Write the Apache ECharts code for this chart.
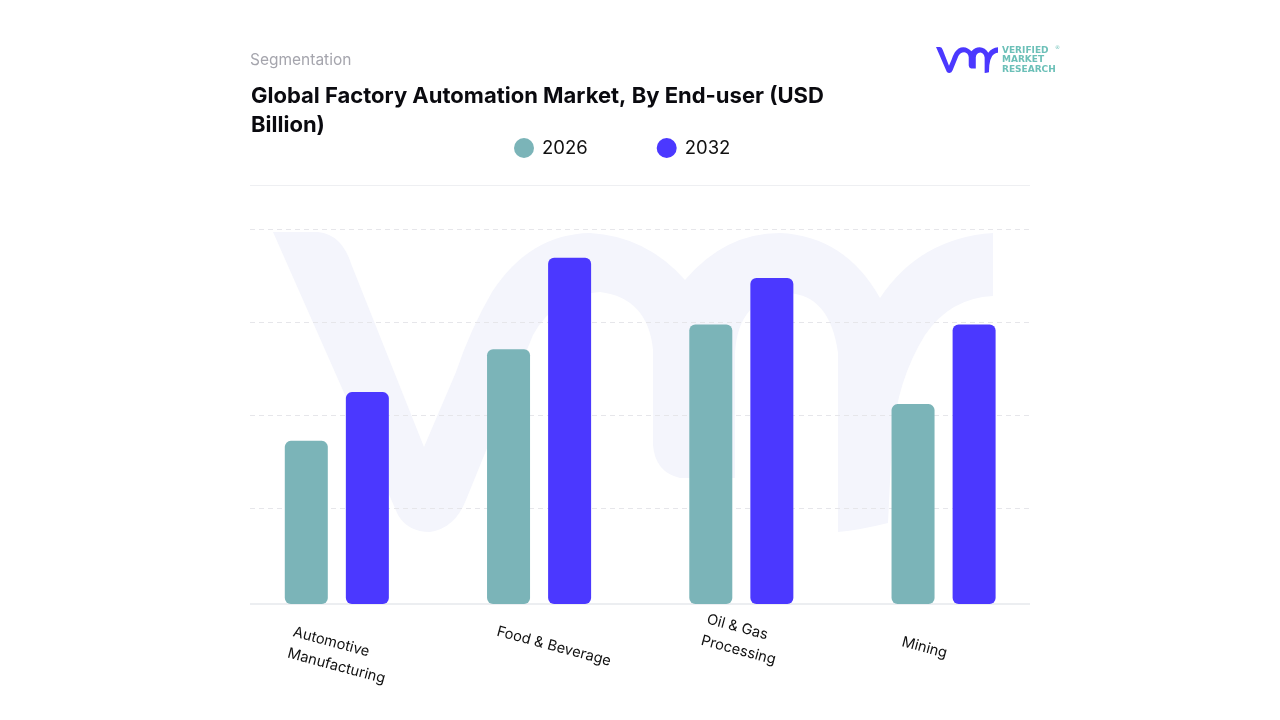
<!DOCTYPE html>
<html>
<head>
<meta charset="utf-8">
<title>Global Factory Automation Market</title>
<script src="https://cdn.jsdelivr.net/npm/echarts@6/dist/echarts.min.js"></script>
<style>
html,body{margin:0;padding:0;background:#fff;}
#panel{width:1280px;height:720px;}
</style>
</head>
<body>
<div id="panel"></div>
<script>
var categories = ['Automotive\nManufacturing', 'Food & Beverage', 'Oil & Gas\nProcessing', 'Mining'];
var seriesNames = ['2026', '2032'];
var values2026 = [43.5, 67.9, 74.5, 53.3];
var values2032 = [56.5, 92.3, 86.9, 74.5];
// padding per label, the labels sit unevenly under the groups
var labelPadding = [[21, 0, 0, 10], [0, 0, 3, 30], [0, 2, 8.4, 0], [17, 35, 0, 0]];

var fontName = 'Inter';
var tealColor = '#7BB4B8';
var blueColor = '#4B38FF';

// vmr logo outline, used for the watermark and the small logo
var logoPath = 'M273 232 L318 232 Q342 234 352 266 L424 447 L456 372 Q470 330 492 292 Q530 234 590 233 ' +
    'Q646 236 685 280 Q725 233 780 233 Q845 236 880 298 Q920 238 993 233 L993 296 Q950 298 925 335 ' +
    'Q897 380 892 440 L888 523 Q860 530 838 532 L838 353 Q830 295 788 293 Q738 298 735 353 L735 478 ' +
    'L680 478 Q655 472 653 445 L653 350 Q648 298 600 292 Q555 295 533 335 L466 500 Q455 528 430 532 ' +
    'Q408 532 398 515 Z';
echarts.graphic.registerShape('vmrLogo', echarts.graphic.extendPath(logoPath, {}));

var myChart = echarts.init(document.getElementById('panel'));

// two line labels are left aligned inside their box, a fixed rich width does that
function richLine(width){
    return { width: width, align: 'left', color: '#111', fontSize: 14.6, lineHeight: 22, fontFamily: fontName };
}

var option = {
    animation: false,
    backgroundColor: '#fff',
    textStyle: { fontFamily: fontName },
    title: [{
        text: 'Segmentation',
        left: 250, top: 52, padding: 0,
        textStyle: { color: '#A5A5AD', fontSize: 15.5, fontWeight: 'normal', fontFamily: fontName }
    }, {
        text: 'Global Factory Automation Market, By End-user (USD\nBillion)',
        left: 251, top: 82, padding: 0,
        textStyle: { color: '#0A0A0F', fontSize: 22, fontWeight: 'bold', lineHeight: 29, fontFamily: fontName }
    }],
    legend: {
        data: seriesNames,
        left: 514, top: 138, padding: 0,
        icon: 'circle',
        itemWidth: 20, itemHeight: 20, itemGap: 69,
        selectedMode: false,
        textStyle: { color: '#111', fontSize: 18.5, padding: [0, 0, 0, 3], fontFamily: fontName }
    },
    grid: [
        { left: 250, width: 780, top: 185, height: 416.25 },
        { left: 235.7, width: 809, top: 185, height: 419 }
    ],
    xAxis: [{
        gridIndex: 0, type: 'category', data: [],
        axisLine: { show: false }, axisTick: { show: false }, axisLabel: { show: false }
    }, {
        gridIndex: 1, type: 'category',
        // align has to sit on the item, the axis level one is ignored when rotated
        data: categories.map(function (name, i) {
            return { value: name, textStyle: { align: 'center', verticalAlign: 'middle', padding: labelPadding[i] } };
        }),
        axisLine: { show: false }, axisTick: { show: false },
        axisLabel: {
            interval: 0, rotate: -15, margin: 40,
            color: '#111', fontSize: 14.6, lineHeight: 22, fontFamily: fontName, hideOverlap: false,
            formatter: function (value) {
                if (value.indexOf('\n') < 0) return value;
                var key = value.charAt(0) == 'A' ? 'wide' : 'narrow';
                return value.split('\n').map(function (line) {
                    return '{' + key + '|' + line + '}';
                }).join('\n');
            },
            rich: { wide: richLine(100), narrow: richLine(77) }
        }
    }],
    yAxis: [{
        // only the dashed lines, spacing
        gridIndex: 0, type: 'value', min: 0, max: 4.47, interval: 1,
        axisLine: { show: false }, axisTick: { show: false }, axisLabel: { show: false },
        splitLine: {
            show: true, showMinLine: false, showMaxLine: false,
            lineStyle: { color: '#E6E6EA', type: [5, 4], width: 1 }
        }
    }, {
        gridIndex: 1, type: 'value', min: 0, max: 111.73,
        axisLine: { show: false }, axisTick: { show: false }, axisLabel: { show: false },
        splitLine: { show: false }
    }],
    series: [{
        name: seriesNames[0], type: 'bar', xAxisIndex: 1, yAxisIndex: 1,
        data: values2026, barWidth: 43, barGap: '42%', z: 3,
        itemStyle: { color: tealColor, borderRadius: 6 }
    }, {
        name: seriesNames[1], type: 'bar', xAxisIndex: 1, yAxisIndex: 1,
        data: values2032, barWidth: 43, barGap: '42%', z: 3,
        itemStyle: { color: blueColor, borderRadius: 6 }
    }],
    graphic: [
        // watermark
        { type: 'vmrLogo', z: -10, silent: true, style: { fill: '#F4F5FC' } },
        // top and bottom rules
        { type: 'line', z: 1, silent: true, shape: { x1: 250, y1: 185.5, x2: 1030, y2: 185.5 }, style: { stroke: '#EEEFF2', lineWidth: 1 } },
        { type: 'line', z: 1, silent: true, shape: { x1: 250, y1: 604, x2: 1030, y2: 604 }, style: { stroke: '#ECEEF1', lineWidth: 2 } },
        // small logo top right
        { type: 'vmrLogo', silent: true, x: 912.5, y: 27, scaleX: 0.0861, scaleY: 0.0867, style: { fill: blueColor } },
        { type: 'text', silent: true, style: { x: 1002, y: 46, text: 'VERIFIED', fill: '#6CC0B8', font: 'bold 9px "DejaVu Sans"' } },
        { type: 'text', silent: true, style: { x: 1002, y: 55.5, text: 'MARKET', fill: '#6CC0B8', font: 'bold 9px "DejaVu Sans"' } },
        { type: 'text', silent: true, style: { x: 1002, y: 65, text: 'RESEARCH', fill: '#6CC0B8', font: 'bold 9px "DejaVu Sans"' } },
        { type: 'text', silent: true, style: { x: 1055, y: 45, text: '®', fill: '#6CC0B8', font: '5px "DejaVu Sans"' } }
    ]
};
myChart.setOption(option);
</script>
</body>
</html>
